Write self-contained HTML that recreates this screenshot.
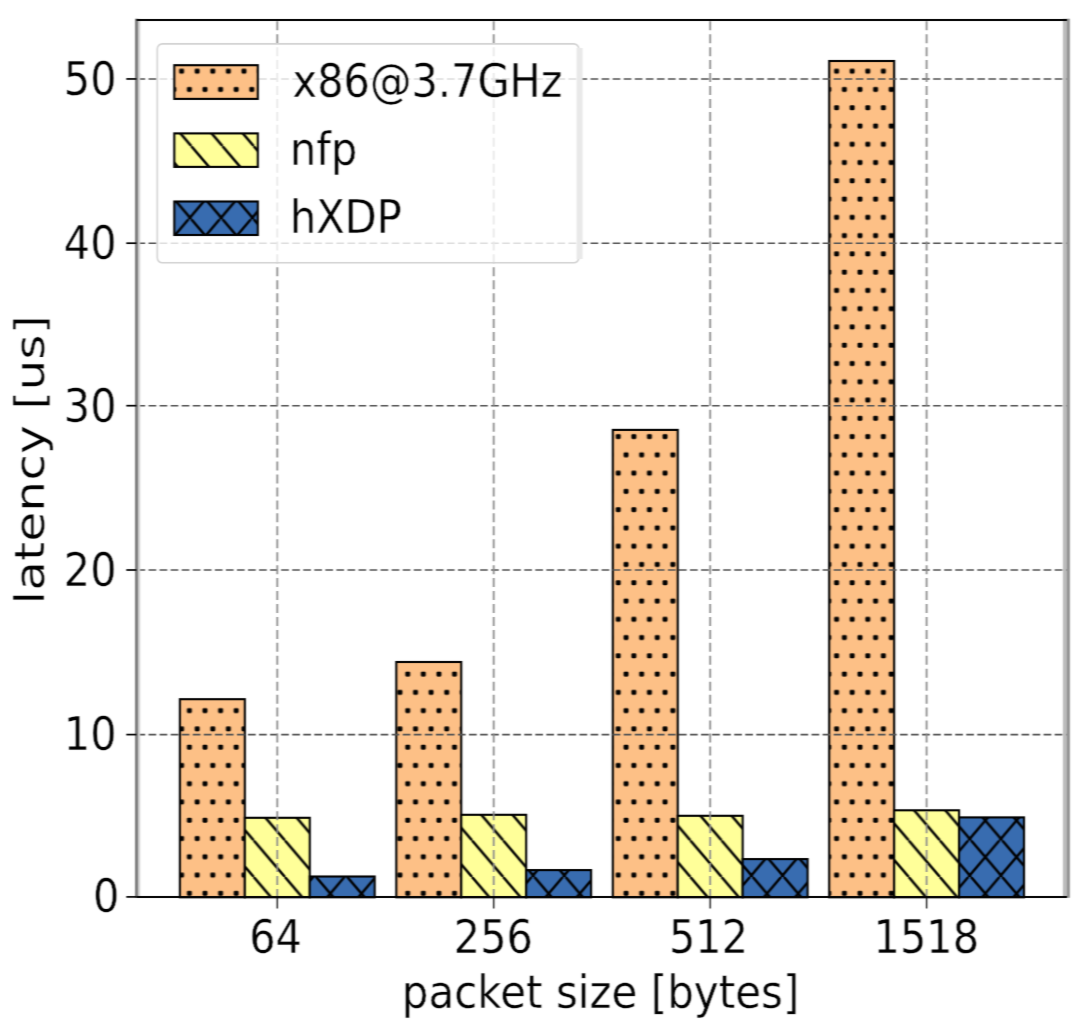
<!DOCTYPE html><html><head><meta charset="utf-8"><title>latency chart</title><style>
html,body{margin:0;padding:0;background:#fff;width:1084px;height:1030px;overflow:hidden}
svg{display:block}text{font-family:"DejaVu Sans","Liberation Sans",sans-serif;fill:#000;stroke:#fff;stroke-width:0.4px}
</style></head><body>
<svg width="1084" height="1030" viewBox="0 0 1084 1030">
<defs>
<pattern id="pdot" patternUnits="userSpaceOnUse" x="-1.639" y="7.255" width="15.595" height="36.540">
<rect x="1.449" y="6.685" width="4.90" height="4.90" rx="1.1" fill="#000"/>
<rect x="9.246" y="24.955" width="4.90" height="4.90" rx="1.1" fill="#000"/>
<rect x="-6.349" y="24.955" width="4.90" height="4.90" rx="1.1" fill="#000"/>
</pattern>
<pattern id="pse" patternUnits="userSpaceOnUse" x="4.200" y="0" width="31.190" height="36.540">
<line x1="-31.190" y1="0" x2="0.000" y2="36.540" stroke="#000" stroke-width="2.5"/>
<line x1="0.000" y1="0" x2="31.190" y2="36.540" stroke="#000" stroke-width="2.5"/>
<line x1="31.190" y1="0" x2="62.380" y2="36.540" stroke="#000" stroke-width="2.5"/>
</pattern>
<pattern id="pxx" patternUnits="userSpaceOnUse" x="4.200" y="0" width="31.190" height="36.540">
<line x1="-31.190" y1="0" x2="0.000" y2="36.540" stroke="#000" stroke-width="2.5"/>
<line x1="0.000" y1="0" x2="31.190" y2="36.540" stroke="#000" stroke-width="2.5"/>
<line x1="31.190" y1="0" x2="62.380" y2="36.540" stroke="#000" stroke-width="2.5"/>
<line x1="-65.180" y1="0" x2="-96.370" y2="36.540" stroke="#000" stroke-width="2.5"/>
<line x1="-33.990" y1="0" x2="-65.180" y2="36.540" stroke="#000" stroke-width="2.5"/>
<line x1="-2.800" y1="0" x2="-33.990" y2="36.540" stroke="#000" stroke-width="2.5"/>
<line x1="28.390" y1="0" x2="-2.800" y2="36.540" stroke="#000" stroke-width="2.5"/>
<line x1="59.580" y1="0" x2="28.390" y2="36.540" stroke="#000" stroke-width="2.5"/>
</pattern>
<filter id="bl" x="0" y="0" width="1084" height="1030" filterUnits="userSpaceOnUse" color-interpolation-filters="sRGB"><feConvolveMatrix order="5 3" kernelMatrix="0.00061 0.00883 0.02149 0.00883 0.00061 0.01397 0.20108 0.48912 0.20108 0.01397 0.00061 0.00883 0.02149 0.00883 0.00061" divisor="1" edgeMode="duplicate" preserveAlpha="true"/></filter>
</defs>
<g filter="url(#bl)">
<rect x="0" y="0" width="1084" height="1030" fill="#fff"/>
<rect x="179.91" y="699.20" width="64.93" height="198.10" fill="#fdc086"/><rect x="179.91" y="699.20" width="64.93" height="198.10" fill="url(#pdot)"/><rect x="179.91" y="699.20" width="64.93" height="198.10" fill="none" stroke="#000" stroke-width="2.1"/>
<rect x="244.84" y="817.80" width="64.93" height="79.50" fill="#ffff99"/><rect x="244.84" y="817.80" width="64.93" height="79.50" fill="url(#pse)"/><rect x="244.84" y="817.80" width="64.93" height="79.50" fill="none" stroke="#000" stroke-width="2.1"/>
<rect x="309.76" y="876.50" width="64.93" height="20.80" fill="#386cb0"/><rect x="309.76" y="876.50" width="64.93" height="20.80" fill="url(#pxx)"/><rect x="309.76" y="876.50" width="64.93" height="20.80" fill="none" stroke="#000" stroke-width="2.1"/>
<rect x="396.30" y="662.00" width="64.93" height="235.30" fill="#fdc086"/><rect x="396.30" y="662.00" width="64.93" height="235.30" fill="url(#pdot)"/><rect x="396.30" y="662.00" width="64.93" height="235.30" fill="none" stroke="#000" stroke-width="2.1"/>
<rect x="461.24" y="814.80" width="64.93" height="82.50" fill="#ffff99"/><rect x="461.24" y="814.80" width="64.93" height="82.50" fill="url(#pse)"/><rect x="461.24" y="814.80" width="64.93" height="82.50" fill="none" stroke="#000" stroke-width="2.1"/>
<rect x="526.16" y="870.10" width="64.93" height="27.20" fill="#386cb0"/><rect x="526.16" y="870.10" width="64.93" height="27.20" fill="url(#pxx)"/><rect x="526.16" y="870.10" width="64.93" height="27.20" fill="none" stroke="#000" stroke-width="2.1"/>
<rect x="612.81" y="429.90" width="64.93" height="467.40" fill="#fdc086"/><rect x="612.81" y="429.90" width="64.93" height="467.40" fill="url(#pdot)"/><rect x="612.81" y="429.90" width="64.93" height="467.40" fill="none" stroke="#000" stroke-width="2.1"/>
<rect x="677.74" y="815.80" width="64.93" height="81.50" fill="#ffff99"/><rect x="677.74" y="815.80" width="64.93" height="81.50" fill="url(#pse)"/><rect x="677.74" y="815.80" width="64.93" height="81.50" fill="none" stroke="#000" stroke-width="2.1"/>
<rect x="742.67" y="859.10" width="64.93" height="38.20" fill="#386cb0"/><rect x="742.67" y="859.10" width="64.93" height="38.20" fill="url(#pxx)"/><rect x="742.67" y="859.10" width="64.93" height="38.20" fill="none" stroke="#000" stroke-width="2.1"/>
<rect x="829.21" y="61.00" width="64.93" height="836.30" fill="#fdc086"/><rect x="829.21" y="61.00" width="64.93" height="836.30" fill="url(#pdot)"/><rect x="829.21" y="61.00" width="64.93" height="836.30" fill="none" stroke="#000" stroke-width="2.1"/>
<rect x="894.13" y="810.30" width="64.93" height="87.00" fill="#ffff99"/><rect x="894.13" y="810.30" width="64.93" height="87.00" fill="url(#pse)"/><rect x="894.13" y="810.30" width="64.93" height="87.00" fill="none" stroke="#000" stroke-width="2.1"/>
<rect x="959.07" y="817.40" width="64.93" height="79.90" fill="#386cb0"/><rect x="959.07" y="817.40" width="64.93" height="79.90" fill="url(#pxx)"/><rect x="959.07" y="817.40" width="64.93" height="79.90" fill="none" stroke="#000" stroke-width="2.1"/>
<line x1="136.50" y1="734.60" x2="1067.00" y2="734.60" stroke="#555" stroke-width="1.6" stroke-dasharray="7.7 3.35" stroke-dashoffset="-1"/>
<line x1="136.50" y1="570.00" x2="1067.00" y2="570.00" stroke="#555" stroke-width="1.6" stroke-dasharray="7.7 3.35" stroke-dashoffset="-1"/>
<line x1="136.50" y1="405.70" x2="1067.00" y2="405.70" stroke="#555" stroke-width="1.6" stroke-dasharray="7.7 3.35" stroke-dashoffset="-1"/>
<line x1="136.50" y1="243.20" x2="1067.00" y2="243.20" stroke="#555" stroke-width="1.6" stroke-dasharray="7.7 3.35" stroke-dashoffset="-1"/>
<line x1="136.50" y1="78.95" x2="1067.00" y2="78.95" stroke="#555" stroke-width="1.6" stroke-dasharray="7.7 3.35" stroke-dashoffset="-1"/>
<line x1="277.30" y1="896.90" x2="277.30" y2="19.60" stroke="#8c8c8c" stroke-width="1.8" stroke-dasharray="9.0 3.95" stroke-dashoffset="1"/>
<line x1="493.70" y1="896.90" x2="493.70" y2="19.60" stroke="#8c8c8c" stroke-width="1.8" stroke-dasharray="9.0 3.95" stroke-dashoffset="1"/>
<line x1="710.20" y1="896.90" x2="710.20" y2="19.60" stroke="#8c8c8c" stroke-width="1.8" stroke-dasharray="9.0 3.95" stroke-dashoffset="1"/>
<line x1="926.60" y1="896.90" x2="926.60" y2="19.60" stroke="#8c8c8c" stroke-width="1.8" stroke-dasharray="9.0 3.95" stroke-dashoffset="1"/>
<rect x="138.0" y="18.70" width="2.2" height="879.10" fill="#d2d2d2"/>
<rect x="135.0" y="18.70" width="3.0" height="879.10" fill="#7e7e7e"/>
<rect x="1062.9" y="18.70" width="3.6" height="879.10" fill="#bcbcbc"/>
<rect x="1066.5" y="18.70" width="3.4" height="879.10" fill="#929292"/>
<line x1="136.50" y1="19.90" x2="1067.00" y2="19.90" stroke="#000" stroke-width="2.0"/>
<line x1="136.50" y1="896.90" x2="1067.00" y2="896.90" stroke="#000" stroke-width="2.0"/>
<line x1="126.3" y1="896.90" x2="136.50" y2="896.90" stroke="#000" stroke-width="1.7"/>
<line x1="126.3" y1="734.60" x2="136.50" y2="734.60" stroke="#000" stroke-width="1.7"/>
<line x1="126.3" y1="570.00" x2="136.50" y2="570.00" stroke="#000" stroke-width="1.7"/>
<line x1="126.3" y1="405.70" x2="136.50" y2="405.70" stroke="#000" stroke-width="1.7"/>
<line x1="126.3" y1="243.20" x2="136.50" y2="243.20" stroke="#000" stroke-width="1.7"/>
<line x1="126.3" y1="78.95" x2="136.50" y2="78.95" stroke="#000" stroke-width="1.7"/>
<line x1="277.30" y1="896.90" x2="277.30" y2="908.5" stroke="#000" stroke-width="1.3"/>
<line x1="493.70" y1="896.90" x2="493.70" y2="908.5" stroke="#000" stroke-width="1.3"/>
<line x1="710.20" y1="896.90" x2="710.20" y2="908.5" stroke="#000" stroke-width="1.3"/>
<line x1="926.60" y1="896.90" x2="926.60" y2="908.5" stroke="#000" stroke-width="1.3"/>
<text transform="translate(92.94 911.79) scale(0.8944 1)" font-size="46.40">0</text>
<text transform="translate(63.85 750.49) scale(0.8944 1)" font-size="46.40">10</text>
<text transform="translate(63.85 585.89) scale(0.8944 1)" font-size="46.40">20</text>
<text transform="translate(63.85 421.59) scale(0.8944 1)" font-size="46.40">30</text>
<text transform="translate(63.85 259.09) scale(0.8944 1)" font-size="46.40">40</text>
<text transform="translate(63.85 94.84) scale(0.8944 1)" font-size="46.40">50</text>
<text transform="translate(249.22 952.83) scale(0.8944 1)" font-size="46.40">64</text>
<text transform="translate(453.80 952.83) scale(0.8944 1)" font-size="46.40">256</text>
<text transform="translate(668.89 952.83) scale(0.8944 1)" font-size="46.40">512</text>
<text transform="translate(873.52 952.83) scale(0.8944 1)" font-size="46.40">1518</text>
<text transform="translate(401.77 1007.70) scale(0.9062 1)" font-size="46.40">packet size [bytes]</text>
<text transform="translate(44.0 604.39) rotate(-90) scale(1 0.8197)" font-size="48.80">latency [us]</text>
<rect x="157.3" y="43.9" width="421.5" height="218.9" rx="5" ry="5" fill="#fff" fill-opacity="0.8" stroke="#d2d2d2" stroke-width="1.6"/>
<rect x="576.6" y="48" width="6.0" height="211" fill="#e9e9e9"/>
<rect x="174.30" y="65.20" width="83.50" height="33.70" fill="#fdc086"/><rect x="174.30" y="65.20" width="83.50" height="33.70" fill="url(#pdot)"/><rect x="174.30" y="65.20" width="83.50" height="33.70" fill="none" stroke="#000" stroke-width="2.1"/>
<rect x="174.30" y="133.40" width="83.50" height="33.50" fill="#ffff99"/><rect x="174.30" y="133.40" width="83.50" height="33.50" fill="url(#pse)"/><rect x="174.30" y="133.40" width="83.50" height="33.50" fill="none" stroke="#000" stroke-width="2.1"/>
<rect x="174.30" y="201.50" width="83.50" height="33.50" fill="#386cb0"/><rect x="174.30" y="201.50" width="83.50" height="33.50" fill="url(#pxx)"/><rect x="174.30" y="201.50" width="83.50" height="33.50" fill="none" stroke="#000" stroke-width="2.1"/>
<text transform="translate(292.60 97.30) scale(0.8944 1)" font-size="46.40">x86@3.7GHz</text>
<text transform="translate(290.02 165.30) scale(0.8944 1)" font-size="46.40">nfp</text>
<text transform="translate(290.02 233.20) scale(0.8944 1)" font-size="46.40">hXDP</text>
</g>
</svg></body></html>
